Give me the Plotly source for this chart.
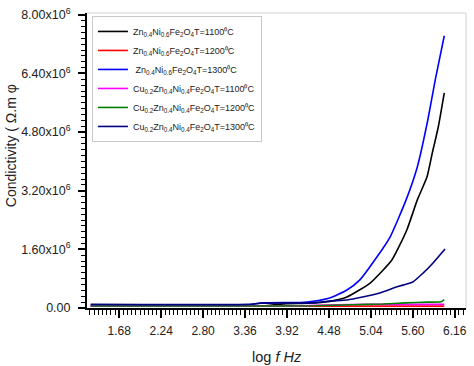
import plotly.graph_objects as go

# ---- data ----
x_zn1100 = [1.30, 2.80, 3.60, 3.92, 4.20, 4.49, 4.72, 5.03, 5.32, 5.52, 5.66, 5.79, 5.86, 5.94, 6.02]
y_zn1100 = [0.06, 0.06, 0.06, 0.12, 0.13, 0.18, 0.30, 0.68, 1.31, 2.13, 2.95, 3.58, 4.23, 4.94, 5.87]

x_zn1200 = [1.30, 3.00, 4.50, 6.02]
y_zn1200 = [0.05, 0.05, 0.05, 0.05]

x_zn1300 = [1.30, 2.00, 2.80, 3.40, 3.60, 3.90, 4.10, 4.27, 4.49, 4.72, 4.89, 5.12, 5.30, 5.51, 5.66, 5.80, 5.90, 6.02]
y_zn1300 = [0.09, 0.09, 0.09, 0.09, 0.14, 0.15, 0.15, 0.18, 0.27, 0.49, 0.76, 1.39, 1.95, 2.95, 3.85, 5.13, 6.23, 7.43]

x_cu1100 = [1.30, 4.00, 4.23, 4.60, 5.00, 5.60, 6.02]
y_cu1100 = [0.05, 0.05, 0.07, 0.09, 0.10, 0.10, 0.10]

x_cu1200 = [1.30, 3.50, 4.30, 4.80, 5.20, 5.50, 5.80, 5.98, 6.02]
y_cu1200 = [0.055, 0.055, 0.06, 0.09, 0.11, 0.14, 0.16, 0.17, 0.23]

x_cu1300 = [1.30, 3.40, 3.55, 3.90, 4.27, 4.49, 4.72, 4.93, 5.16, 5.39, 5.60, 5.74, 5.87, 6.03]
y_cu1300 = [0.10, 0.10, 0.13, 0.14, 0.14, 0.19, 0.22, 0.30, 0.41, 0.58, 0.71, 0.96, 1.23, 1.61]

SCALE = 1e6

names = [
    "Zn<sub>0.4</sub>Ni<sub>0.6</sub>Fe<sub>2</sub>O<sub>4</sub>T=1100\u2070C",
    "Zn<sub>0.4</sub>Ni<sub>0.6</sub>Fe<sub>2</sub>O<sub>4</sub>T=1200\u2070C",
    " Zn<sub>0.4</sub>Ni<sub>0.6</sub>Fe<sub>2</sub>O<sub>4</sub>T=1300\u2070C",
    "Cu<sub>0.2</sub>Zn<sub>0.4</sub>Ni<sub>0.4</sub>Fe<sub>2</sub>O<sub>4</sub>T=1100\u2070C",
    "Cu<sub>0.2</sub>Zn<sub>0.4</sub>Ni<sub>0.4</sub>Fe<sub>2</sub>O<sub>4</sub>T=1200\u2070C",
    "Cu<sub>0.2</sub>Zn<sub>0.4</sub>Ni<sub>0.4</sub>Fe<sub>2</sub>O<sub>4</sub>T=1300\u2070C",
]
colors = ["#000000", "#ff0000", "#0000ff", "#ff00ff", "#008000", "#000080"]
series = [
    (x_zn1100, y_zn1100), (x_zn1200, y_zn1200), (x_zn1300, y_zn1300),
    (x_cu1100, y_cu1100), (x_cu1200, y_cu1200), (x_cu1300, y_cu1300),
]

y_tickvals = [0, 1.6e6, 3.2e6, 4.8e6, 6.4e6, 8.0e6]
y_ticktext = ["0.00", "1.60x10<sup>6</sup>", "3.20x10<sup>6</sup>", "4.80x10<sup>6</sup>",
              "6.40x10<sup>6</sup>", "8.00x10<sup>6</sup>"]
x_tickvals = [1.68, 2.24, 2.80, 3.36, 3.92, 4.48, 5.04, 5.60, 6.16]
x_ticktext = ["1.68", "2.24", "2.80", "3.36", "3.92", "4.48", "5.04", "5.60", "6.16"]

FONT = "Arial, Liberation Sans, sans-serif"
TXT = "#222222"

fig = go.Figure()
for (xs, ys), nm, c in zip(series, names, colors):
    fig.add_trace(go.Scatter(x=xs, y=[v * SCALE for v in ys], mode="lines", name=nm,
                             line=dict(color=c, width=1.6, shape="spline", smoothing=0.5)))

fig.update_layout(
    width=474, height=366,
    margin=dict(l=87, r=8, t=13, b=58, autoexpand=False),
    paper_bgcolor="white", plot_bgcolor="white",
    font=dict(family=FONT, color=TXT),
    showlegend=True,
    legend=dict(x=0.013, y=0.99, xanchor="left", yanchor="top",
                bgcolor="white", bordercolor="#c8c8c8", borderwidth=1,
                font=dict(size=9, family=FONT, color=TXT),
                tracegroupgap=0, itemwidth=30),
    xaxis=dict(range=[1.25, 6.31], showgrid=False, zeroline=False, automargin=False,
               showline=True, linecolor="black", linewidth=2,
               ticks="outside", ticklen=8, tickwidth=1.5, tickcolor="black",
               tickvals=x_tickvals, ticktext=x_ticktext,
               tickfont=dict(size=12, family=FONT, color=TXT),
               ticklabelstandoff=3,
               minor=dict(dtick=0.056, tick0=1.68, ticks="outside", ticklen=5,
                          tickwidth=1.2, tickcolor="black")),
    yaxis=dict(range=[0, 8.05e6], showgrid=False, zeroline=False, automargin=False,
               showline=True, linecolor="black", linewidth=2,
               ticks="outside", ticklen=7, tickwidth=1.5, tickcolor="black",
               tickvals=y_tickvals, ticktext=y_ticktext,
               tickfont=dict(size=12.5, family=FONT, color=TXT),
               ticklabelstandoff=5,
               minor=dict(dtick=0.16e6, tick0=0, ticks="outside", ticklen=4,
                          tickwidth=1.2, tickcolor="black")),
    shapes=[
        dict(type="line", xref="paper", yref="paper", x0=0, x1=1, y0=1, y1=1,
             line=dict(color="#d0d0d0", width=1)),
        dict(type="line", xref="paper", yref="paper", x0=1, x1=1, y0=0, y1=1,
             line=dict(color="#d0d0d0", width=1)),
    ],
    annotations=[
        dict(text="Condictivity ( \u03a9.m \u03c6", xref="paper", yref="paper",
             x=-0.202, y=0.55, xanchor="center", yanchor="middle", textangle=-90,
             showarrow=False, font=dict(size=14, family=FONT, color=TXT)),
        dict(text="log <i>f Hz</i>", xref="paper", yref="paper",
             x=0.5, y=-0.165, xanchor="center", yanchor="middle",
             showarrow=False, font=dict(size=14.5, family=FONT, color=TXT)),
    ],
)

fig.write_html("out.html", config={"displayModeBar": False},
               post_script="document.body.style.margin='0';document.body.style.padding='0';"
                           "document.body.style.overflow='hidden';")
